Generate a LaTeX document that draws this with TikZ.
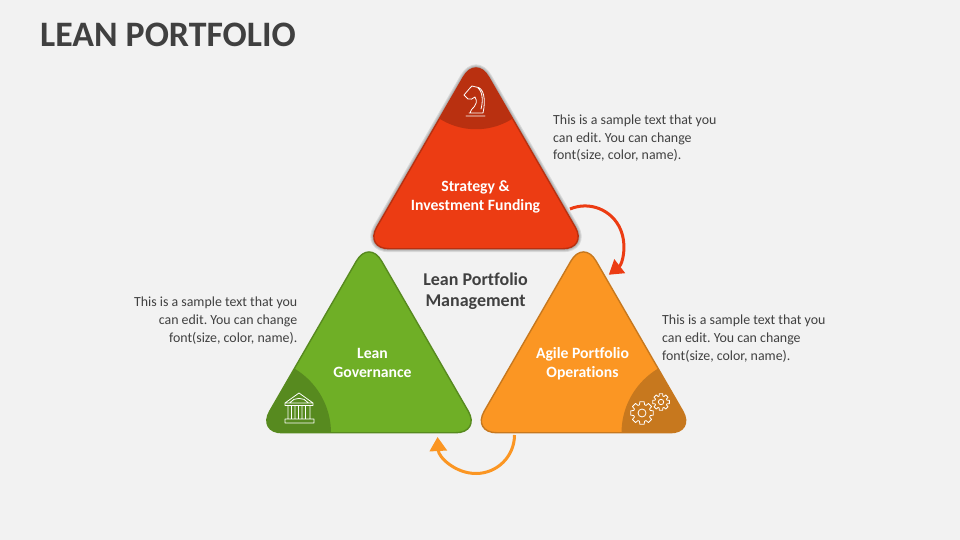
\documentclass[tikz,border=0pt]{standalone}
\usepackage{fontspec}
\setmainfont[Ligatures={NoCommon}]{Carlito}
\usetikzlibrary{shapes.geometric, arrows.meta, positioning}
\definecolor{pagebg}{HTML}{F2F2F2}
\definecolor{inktext}{HTML}{404040}
\definecolor{redfill}{HTML}{EC3C13}
\definecolor{reddark}{HTML}{B93010}
\definecolor{greenfill}{HTML}{6FAF26}
\definecolor{greendark}{HTML}{578A1F}
\definecolor{orangefill}{HTML}{FB9623}
\definecolor{orangedark}{HTML}{C7781E}

\begin{document}
\frenchspacing
\begin{tikzpicture}[
    x=1pt, y=1pt,
    tri/.style={regular polygon, regular polygon sides=3, minimum size=258pt, inner sep=0pt, outer sep=0pt, rounded corners=25pt, line width=1.4pt},
    tag/.style={font=\fontsize{15.7}{19}\selectfont\bfseries, text=white, align=center},
    note/.style={font=\fontsize{13.9}{17.7}\selectfont, text=inktext},
    flow/.style={line width=3pt, -{Triangle[length=14pt, width=17pt]}},
    icon/.style={draw=white, line width=0.8pt, line join=round, line cap=round}
]
\useasboundingbox (0,0) rectangle (960,540);
\fill[pagebg] (0,0) rectangle (960,540);

% Title
\node[anchor=west, inner sep=0pt, font=\fontsize{35.8}{40}\selectfont\bfseries, text=inktext] (title) at (40,505) {LEAN PORTFOLIO};

% Soft edge behind the top triangle
\foreach \w in {7,5,3}
    \node[tri, draw=black, draw opacity=0.10, line width=\w pt] (halo\w) at (476,355.75) {};

% Triangles
\node[tri, fill=redfill, draw=reddark, path picture={\fill[reddark] (0,123) circle (68pt);}] (strategy) at (476,355.75) {};
\node[tri, fill=greenfill, draw=greendark, path picture={\fill[greendark] (-113,-64.75) circle (75pt);}] (governance) at (369,171.75) {};
\node[tri, fill=orangefill, draw=orangedark, path picture={\fill[orangedark] (113,-64.75) circle (75pt);}] (operations) at (583.5,171.75) {};

% Labels
\node[tag] (strategytxt) at (475.5,343) {Strategy \&\\Investment Funding};
\node[tag] (governancetxt) at (372.5,177) {Lean\\Governance};
\node[tag] (operationstxt) at (582.5,176) {Agile Portfolio\\Operations};
\node[font=\fontsize{18}{21}\selectfont\bfseries, text=inktext, align=center] (centre) at (475.5,248.5) {Lean Portfolio\\Management};

% Side notes
\node[note, anchor=north west, inner sep=0pt, align=left] (noteright) at (553,425.5) {This is a sample text that you\\can edit. You can change\\font(size, color, name).};
\node[note, anchor=north east, inner sep=0pt, align=right] (noteleft) at (297.5,243) {This is a sample text that you\\can edit. You can change\\font(size, color, name).};
\node[note, anchor=north west, inner sep=0pt, align=left] (notelow) at (662,225) {This is a sample text that you\\can edit. You can change\\font(size, color, name).};

% Arrows
\coordinate (redstart) at (570,331);
\coordinate (orangestart) at (514.5,105);
\draw[flow, redfill] (redstart) arc[start angle=113, end angle=-52, radius=38.5pt];
\draw[flow, orangefill] (orangestart) arc[start angle=0, end angle=-177, radius=38.5pt];

% Knight
\draw[icon] (466,424) -- (485,424) (469,427) -- (483,427)
    (470,427) .. controls (470,432) and (480,434) .. (475,443)
    .. controls (473,441) and (470,440) .. (468,441) -- (464,445)
    -- (470,452) -- (472,454) -- (476,453) .. controls (484,453) and (486,440) .. (483,427)
    (478,452) .. controls (483,448) and (483,438) .. (481,431);

% Temple
\draw[icon] (285,137) -- (299,147) -- (313,137) -- cycle (285,137) -- (285,134.5) -- (313,134.5) -- (313,137)
    (290,137.5) .. controls (294,143) and (304,143) .. (308,137.5)
    (288,134.5) -- (288,121) (310,134.5) -- (310,121)
    (291.5,134.5) -- (291.5,121) (295,134.5) -- (295,121) (298.5,134.5) -- (298.5,121) (302,134.5) -- (302,121) (305.5,134.5) -- (305.5,121)
    (285,117) rectangle (314,121);

% Gears
\foreach \cx/\cy/\ro/\ri/\rh in {642/127/11.5/8.6/4, 661/138/8.5/6.2/2.7} {
    \draw[icon] (\cx,\cy) circle (\rh pt);
    \draw[icon] ({\cx+\ro*cos(11)},{\cy+\ro*sin(11)})
      \foreach \a in {0,45,...,315} {
        -- ({\cx+\ro*cos(\a+11)},{\cy+\ro*sin(\a+11)})
        -- ({\cx+\ri*cos(\a+17)},{\cy+\ri*sin(\a+17)})
        -- ({\cx+\ri*cos(\a+28)},{\cy+\ri*sin(\a+28)})
        -- ({\cx+\ro*cos(\a+34)},{\cy+\ro*sin(\a+34)})
      } -- cycle;
}
\end{tikzpicture}
\end{document}
